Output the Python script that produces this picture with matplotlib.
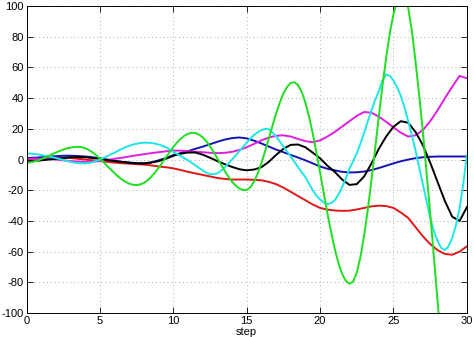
import numpy as np
import matplotlib
matplotlib.use("Agg")
import matplotlib.pyplot as plt

plt.rcParams["font.family"] = ["Liberation Sans", "DejaVu Sans"]
plt.rcParams["axes.unicode_minus"] = False

# values; the two fast lines are read at quarter steps
steps = np.arange(0, 30.5, 0.5)
fine_steps = np.arange(0, 30.25, 0.25)

green = [-2.1, -1.8, -1.3, -0.6, 0.3, 1.3, 2.4, 3.5,
         4.6, 5.6, 6.5, 7.3, 7.8, 8.2, 8.3, 8.1,
         7.4, 6.2, 4.7, 2.8, 0.6, -1.7, -4.2, -6.6,
         -8.9, -11.1, -13.0, -14.5, -15.7, -16.4, -16.6, -16.2,
         -15.2, -13.5, -11.2, -8.5, -5.4, -2.0, 1.5, 4.9,
         8.2, 11.1, 13.6, 15.5, 16.8, 17.4, 17.3, 16.3,
         14.5, 11.9, 8.6, 4.9, 0.8, -3.3, -7.4, -11.1,
         -14.4, -17.0, -18.9, -19.8, -19.8, -18.1, -14.4, -9.1,
         -2.4, 5.3, 13.6, 21.9, 29.9, 37.0, 43.0, 47.3,
         49.9, 50.4, 48.5, 44.0, 37.0, 27.8, 16.9, 4.5,
         -8.5, -22.0, -35.1, -47.3, -58.3, -67.5, -74.5, -79.0,
         -80.9, -79.5, -73.6, -63.4, -49.5, -32.6, -13.3, 7.2,
         28.1, 48.2, 66.5, 82.5, 94.9, 103.5, 107.6, 106.0,
         99.0, 84.0, 64.0, 42.0, 18.0, -8.0, -35.0, -63.0,
         -92.0, -120.0, -145.0, -165.0, -180.0, -187.0, -190.0, -185.0,
         -175.0]

cyan = [4.0, 3.9, 3.7, 3.4, 3.0, 2.5, 2.0, 1.5,
        1.0, 0.4, -0.2, -0.9, -1.5, -2.0, -2.3, -2.5,
        -2.5, -2.2, -1.7, -0.9, 0.0, 1.1, 2.2, 3.4,
        4.5, 5.8, 7.0, 8.1, 9.0, 9.8, 10.3, 10.8,
        11.0, 11.0, 10.8, 10.4, 9.8, 9.0, 8.0, 6.6,
        5.0, 3.7, 2.3, 0.9, -0.5, -2.1, -3.8, -5.5,
        -7.0, -8.5, -9.5, -9.6, -9.0, -7.3, -5.0, -2.6,
        0.0, 2.7, 5.5, 8.3, 11.0, 13.7, 16.0, 17.8,
        19.2, 20.0, 19.8, 17.8, 15.0, 11.9, 8.5, 5.2,
        2.0, -1.5, -5.0, -8.2, -11.5, -15.8, -20.0, -23.5,
        -26.0, -28.0, -29.0, -28.4, -26.5, -22.8, -18.0, -12.3,
        -6.0, -1.0, 4.0, 10.5, 17.5, 25.0, 32.0, 38.8,
        44.5, 51.5, 55.5, 54.5, 51.5, 47.0, 41.5, 34.0,
        25.0, 16.0, 6.0, -5.0, -16.0, -27.0, -38.0, -46.5,
        -53.0, -57.5, -59.0, -56.5, -51.0, -43.0, -32.0, -16.0,
        3.0]

magenta = [0.5, 0.6, 0.5, 0.3, 0.0, -0.5, -1.0, -1.3, -1.5, -1.3,
           -1.0, -0.3, 0.5, 1.2, 2.0, 2.8, 3.5, 4.2, 4.8, 5.4,
           5.8, 5.8, 5.5, 5.1, 4.8, 4.4, 4.2, 4.4, 5.0, 6.3,
           8.0, 10.2, 12.5, 14.3, 15.5, 15.8, 15.0, 13.4, 12.0, 11.3,
           12.5, 15.0, 18.0, 21.5, 25.0, 28.5, 31.0, 30.5, 28.0, 24.6,
           21.0, 17.5, 15.0, 15.8, 19.2, 25.0, 32.0, 40.0, 47.4, 54.5,
           53.0]

black = [-1.5, -1.0, -0.5, 0.0, 0.5, 1.0, 1.5, 1.6, 1.5, 1.0,
         0.5, -0.3, -1.0, -1.5, -2.0, -2.4, -2.5, -2.0, -1.0, 0.5,
         2.5, 3.8, 4.6, 4.6, 3.2, 1.2, -1.0, -3.0, -4.8, -6.3,
         -7.0, -6.5, -5.0, -1.5, 3.0, 7.0, 9.6, 9.8, 8.0, 4.5,
         0.8, -4.0, -8.0, -13.0, -16.5, -16.0, -11.0, -2.5, 7.0, 15.0,
         21.4, 25.0, 24.0, 18.0, 9.4, -2.0, -14.5, -27.0, -37.2, -40.0,
         -31.0]

blue = [1.0, 1.2, 1.5, 1.9, 2.2, 2.5, 2.5, 2.3, 2.0, 1.5,
        0.8, 0.0, -0.8, -1.5, -2.0, -2.4, -2.5, -1.8, -0.5, 1.0,
        2.9, 4.2, 5.5, 7.0, 8.4, 10.0, 11.6, 13.0, 14.0, 14.4,
        13.8, 12.3, 10.5, 8.5, 6.5, 4.8, 3.0, 1.3, -0.5, -2.5,
        -4.5, -6.0, -7.0, -8.0, -8.4, -8.3, -7.8, -6.8, -5.5, -4.0,
        -2.5, -1.1, 0.0, 0.9, 1.5, 1.8, 2.0, 2.0, 2.0, 2.0,
        2.0]

red = [0.0, 0.5, 1.0, 1.3, 1.5, 1.3, 1.0, 0.5, 0.0, -0.5,
       -1.0, -1.5, -2.0, -2.4, -2.7, -3.0, -3.3, -3.8, -4.5, -5.0,
       -5.7, -6.8, -8.0, -9.0, -10.0, -11.0, -12.0, -12.6, -13.0, -13.0,
       -13.0, -13.2, -13.5, -14.5, -16.0, -18.3, -21.0, -23.8, -26.5, -29.3,
       -31.5, -32.6, -33.2, -33.4, -33.3, -32.5, -31.5, -30.5, -30.0, -30.3,
       -31.5, -34.5, -38.0, -44.0, -50.0, -55.0, -59.0, -61.5, -62.0, -60.0,
       -56.5]

series = [
    (steps, red, "#e01818"),
    (steps, blue, "#1414b4"),
    (steps, magenta, "#e01ee0"),
    (steps, black, "black"),
    (fine_steps, cyan, "#1ee6e6"),
    (fine_steps, green, "#1ee01e"),
]

fig = plt.figure(figsize=(4.74, 3.37), dpi=100)
ax = fig.add_axes([0.056, 0.071, 0.929, 0.911])

for xs, vals, col in series:
    ax.plot(xs, vals, color=col, linewidth=1.4)

ax.set_xlim(0, 30)
ax.set_ylim(-100, 100)
ax.set_xticks(range(0, 31, 5))
ax.set_yticks(range(-100, 101, 20))
ax.grid(True, linestyle=(0, (1, 3)), color="#b0b0b0", linewidth=0.7)
ax.tick_params(direction="in", top=True, right=True, length=4,
               labelsize=8, pad=2, width=0.6)
for sp in ax.spines.values():
    sp.set_linewidth(0.7)
ax.set_xlabel("step", fontsize=8, labelpad=1)

fig.savefig("out.png", dpi=100)
